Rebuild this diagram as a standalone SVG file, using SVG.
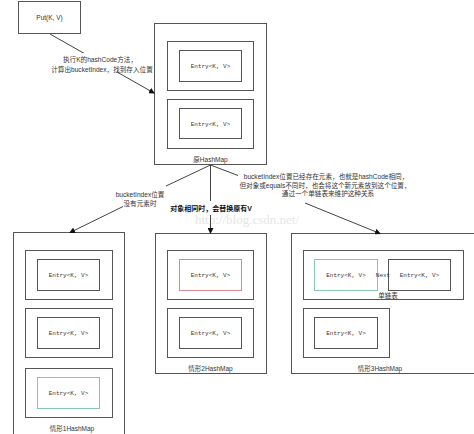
<svg xmlns="http://www.w3.org/2000/svg" width="474" height="434" viewBox="0 0 474 434">
<defs>
<style>
.box{fill:#fff;stroke:#555;stroke-width:1}
.in{fill:#fff;stroke:#555;stroke-width:1}
.red{fill:#fff;stroke:#d98a90;stroke-width:1}
.grn{fill:#fff;stroke:#86c7b4;stroke-width:1}
.ent{font-family:"Liberation Mono","Noto Sans CJK SC",monospace;font-size:6px;fill:#333;text-anchor:middle}
.lbl{font-family:"Liberation Sans","Noto Sans CJK SC",sans-serif;font-size:6.6px;fill:#333;text-anchor:middle}
.cap{font-family:"Liberation Sans","Noto Sans CJK SC",sans-serif;font-size:6.5px;fill:#333;text-anchor:middle}
.bold{font-family:"Liberation Sans","Noto Sans CJK SC",sans-serif;font-size:7px;fill:#111;font-weight:bold;text-anchor:middle}
.wm{font-family:"Liberation Serif",serif;font-size:13px;fill:#e6e6e6;text-anchor:middle}
.ln{stroke:#444;stroke-width:1;fill:none}
</style>
<marker id="ah" markerWidth="6" markerHeight="6" refX="5" refY="3" orient="auto" markerUnits="userSpaceOnUse">
<path d="M0,0 L6,3 L0,6 z" fill="#111"/>
</marker>
</defs>
<rect width="474" height="434" fill="#fff"/>

<g id="put">
<rect class="box" x="18.5" y="1.5" width="62" height="32"/>
<text class="cap" x="49.5" y="19.5">Put(K, V)</text>
</g>

<g id="orig">
<rect class="box" x="154.5" y="23.5" width="112" height="141"/>
<rect class="box" x="167.5" y="41.5" width="86" height="49"/>
<rect class="in" x="179.5" y="50.5" width="62" height="31"/>
<text class="ent" x="210.5" y="68">Entry&lt;K, V&gt;</text>
<rect class="box" x="167.5" y="99.5" width="86" height="49"/>
<rect class="in" x="179.5" y="108.5" width="62" height="30"/>
<text class="ent" x="210.5" y="125.5">Entry&lt;K, V&gt;</text>
<text class="cap" x="210.5" y="161.5">原HashMap</text>
</g>

<g id="case1">
<rect class="box" x="13.5" y="232.5" width="111" height="210"/>
<rect class="box" x="25.5" y="250.5" width="87" height="49"/>
<rect class="in" x="37.5" y="259.5" width="62" height="31"/>
<text class="ent" x="68.5" y="277">Entry&lt;K, V&gt;</text>
<rect class="box" x="25.5" y="308.5" width="87" height="49"/>
<rect class="in" x="37.5" y="317.5" width="62" height="31"/>
<text class="ent" x="68.5" y="335">Entry&lt;K, V&gt;</text>
<rect class="box" x="25.5" y="368.5" width="87" height="49"/>
<rect class="grn" x="37.5" y="377.5" width="62" height="31"/>
<text class="ent" x="68.5" y="395">Entry&lt;K, V&gt;</text>
<text class="cap" x="72" y="430.5">情形1HashMap</text>
</g>

<g id="case2">
<rect class="box" x="155.5" y="233.5" width="111" height="140"/>
<rect class="box" x="167.5" y="250.5" width="86" height="49"/>
<rect class="red" x="179.5" y="259.5" width="62" height="31"/>
<text class="ent" x="210.5" y="277">Entry&lt;K, V&gt;</text>
<rect class="box" x="167.5" y="308.5" width="86" height="49"/>
<rect class="in" x="179.5" y="317.5" width="62" height="31"/>
<text class="ent" x="210.5" y="335">Entry&lt;K, V&gt;</text>
<text class="cap" x="210.5" y="370.5">情形2HashMap</text>
</g>

<g id="case3">
<rect class="box" x="291.5" y="233.5" width="190" height="140"/>
<rect class="box" x="303.5" y="250.5" width="160" height="49"/>
<rect class="grn" x="314.5" y="259.5" width="63" height="31"/>
<text class="ent" x="346" y="277">Entry&lt;K, V&gt;</text>
<rect class="in" x="388.5" y="259.5" width="62" height="31"/>
<text class="ent" x="419.5" y="277">Entry&lt;K, V&gt;</text>
<text class="ent" x="383" y="277">Next</text>
<text class="cap" x="388" y="297.5">单链表</text>
<rect class="box" x="303.5" y="308.5" width="86" height="49"/>
<rect class="in" x="314.5" y="317.5" width="63" height="31"/>
<text class="ent" x="346" y="335">Entry&lt;K, V&gt;</text>
<text class="cap" x="380" y="370.5">情形3HashMap</text>
</g>

<text class="wm" x="247" y="224">http://blog.csdn.net/</text>

<g id="connectors">
<line class="ln" x1="50" y1="34" x2="154" y2="93" marker-end="url(#ah)"/>
<line class="ln" x1="210.5" y1="165" x2="166" y2="186"/>
<line class="ln" x1="123" y1="206.5" x2="70" y2="232.5" marker-end="url(#ah)"/>
<line class="ln" x1="210.5" y1="165" x2="210.5" y2="201"/>
<line class="ln" x1="210.5" y1="215" x2="210.5" y2="233" marker-end="url(#ah)"/>
<line class="ln" x1="210.5" y1="165" x2="238" y2="175.5"/>
<line class="ln" x1="305" y1="203" x2="380" y2="233.5" marker-end="url(#ah)"/>
</g>

<g id="labels">
<rect x="60" y="53" width="86" height="19" fill="#fff"/>
<text class="lbl" x="100" y="61.5">执行K的hashCode方法，</text>
<text class="lbl" x="102" y="71.5">计算出bucketIndex，找到存入位置</text>
<text class="lbl" x="140" y="196.5">bucketIndex位置</text>
<text class="lbl" x="140" y="205.5">没有元素时</text>
<text class="bold" x="211" y="210.5">对象相同时，会替换原有V</text>
<text class="lbl" x="326" y="178.5">bucketIndex位置已经存在元素，也就是hashCode相同，</text>
<text class="lbl" x="325" y="187.5">但对象或equals不同时，也会将这个新元素放到这个位置，</text>
<text class="lbl" x="328" y="196">通过一个单链表来维护这种关系</text>
</g>
</svg>
